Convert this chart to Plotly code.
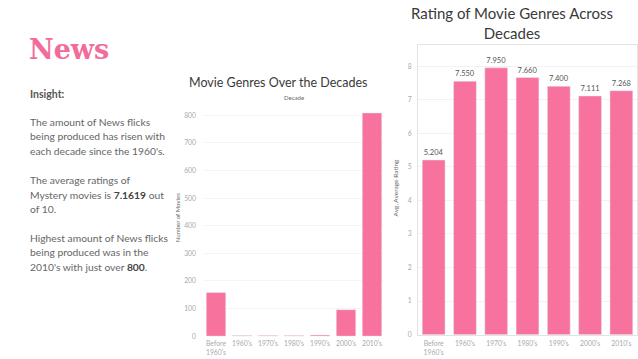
import plotly.graph_objects as go

decades = ["Before<br>1960's", "1960's", "1970's", "1980's", "1990's", "2000's", "2010's"]
movie_counts = [158, 2, 2, 2, 4, 96, 809]
avg_ratings = [5.204, 7.550, 7.950, 7.660, 7.400, 7.111, 7.268]
count_ticks = [0, 100, 200, 300, 400, 500, 600, 700, 800]
rating_ticks = [0, 1, 2, 3, 4, 5, 6, 7, 8]

insight_p1 = ["The amount of News flicks", "being produced has risen with", "each decade since the 1960's."]
insight_p2 = ["The average ratings of", "Mystery movies is <b><span style='color:#444'>7.1619</span></b> out", "of 10."]
insight_p3 = ["Highest amount of News flicks", "being produced was in the", "2010's with just over <b><span style='color:#444'>800</span></b>."]

PINK = "#F7739E"
W, H = 638, 359

fig = go.Figure()
fig.add_trace(go.Bar(x=decades, y=movie_counts, marker_color=PINK, width=0.75,
                     xaxis="x", yaxis="y"))
fig.add_trace(go.Bar(x=decades, y=avg_ratings, marker_color=PINK, width=0.73,
                     text=[f"{v:.3f}" for v in avg_ratings], textposition="outside",
                     textfont=dict(size=7.5, color="#555", family="Lato"),
                     cliponaxis=False, xaxis="x2", yaxis="y2"))

def py(y):
    return (H - y) / H

def px(x):
    return x / W

tickfont = dict(size=6.8, color="#aaa", family="Lato")

fig.update_layout(
    width=W, height=H, margin=dict(l=0, r=0, t=0, b=0),
    paper_bgcolor="white", plot_bgcolor="white", showlegend=False,
    xaxis=dict(domain=[px(203), px(385)], tickfont=tickfont, showgrid=False,
               ticks="", showline=False, anchor="y", ticklabelstandoff=2),
    yaxis=dict(domain=[py(339), py(108)], range=[0, 830], tickvals=count_ticks,
               tickfont=tickfont, showgrid=True, gridcolor="#f5f5f5", zeroline=False,
               ticks="", anchor="x", ticklabelstandoff=6),
    xaxis2=dict(domain=[px(418), px(637)], tickfont=tickfont, showgrid=False,
                ticks="", showline=True, mirror=True, linecolor="#e3e3e3", linewidth=1,
                anchor="y2", ticklabelstandoff=2),
    yaxis2=dict(domain=[py(337.5), py(45.7)], range=[0, 8.62], tickvals=rating_ticks,
                tickfont=tickfont, showgrid=True, gridcolor="#f2f2f2", zeroline=False,
                ticks="", showline=True, mirror=True, linecolor="#e3e3e3", linewidth=1,
                anchor="x2", ticklabelstandoff=4),
)

body_font = dict(family="Lato", size=10.3, color="#666")
anns = [
    dict(text="<b>News</b>", x=px(27), y=py(50), font=dict(family="DejaVu Serif", size=27, color="#F26B9A"),
         xanchor="left", yanchor="middle"),
    dict(text="<b>Insight:</b>", x=px(28), y=py(95), font=dict(family="Lato", size=10.5, color="#555"),
         xanchor="left", yanchor="middle"),
    dict(text="Movie Genres Over the Decades", x=px(278), y=py(83),
         font=dict(family="Lato", size=12.5, color="#3a3a3a"), xanchor="center", yanchor="middle"),
    dict(text="Decade", x=px(294), y=py(98), font=dict(family="Lato", size=6, color="#666"),
         xanchor="center", yanchor="middle"),
    dict(text="Number of Movies", x=px(177), y=py(220), textangle=-90,
         font=dict(family="Lato", size=6, color="#666"), xanchor="center", yanchor="middle"),
    dict(text="Rating of Movie Genres Across<br>Decades", x=px(512), y=py(23),
         font=dict(family="Lato", size=15, color="#3a3a3a"), xanchor="center", yanchor="middle"),
    dict(text="Avg. Average Rating", x=px(395), y=py(190), textangle=-90,
         font=dict(family="Lato", size=6.5, color="#666"), xanchor="center", yanchor="middle"),
]
for para, y0 in ((insight_p1, 123), (insight_p2, 182), (insight_p3, 240)):
    for i, line in enumerate(para):
        anns.append(dict(text=line, x=px(28), y=py(y0 + i * 14.5), font=body_font,
                         xanchor="left", yanchor="middle", align="left"))
for a in anns:
    a.update(xref="paper", yref="paper", showarrow=False)
fig.update_layout(annotations=anns)

fig.write_html("out.html", config={"displayModeBar": False},
               post_script="document.body.style.margin='0';document.body.style.overflow='hidden';")
